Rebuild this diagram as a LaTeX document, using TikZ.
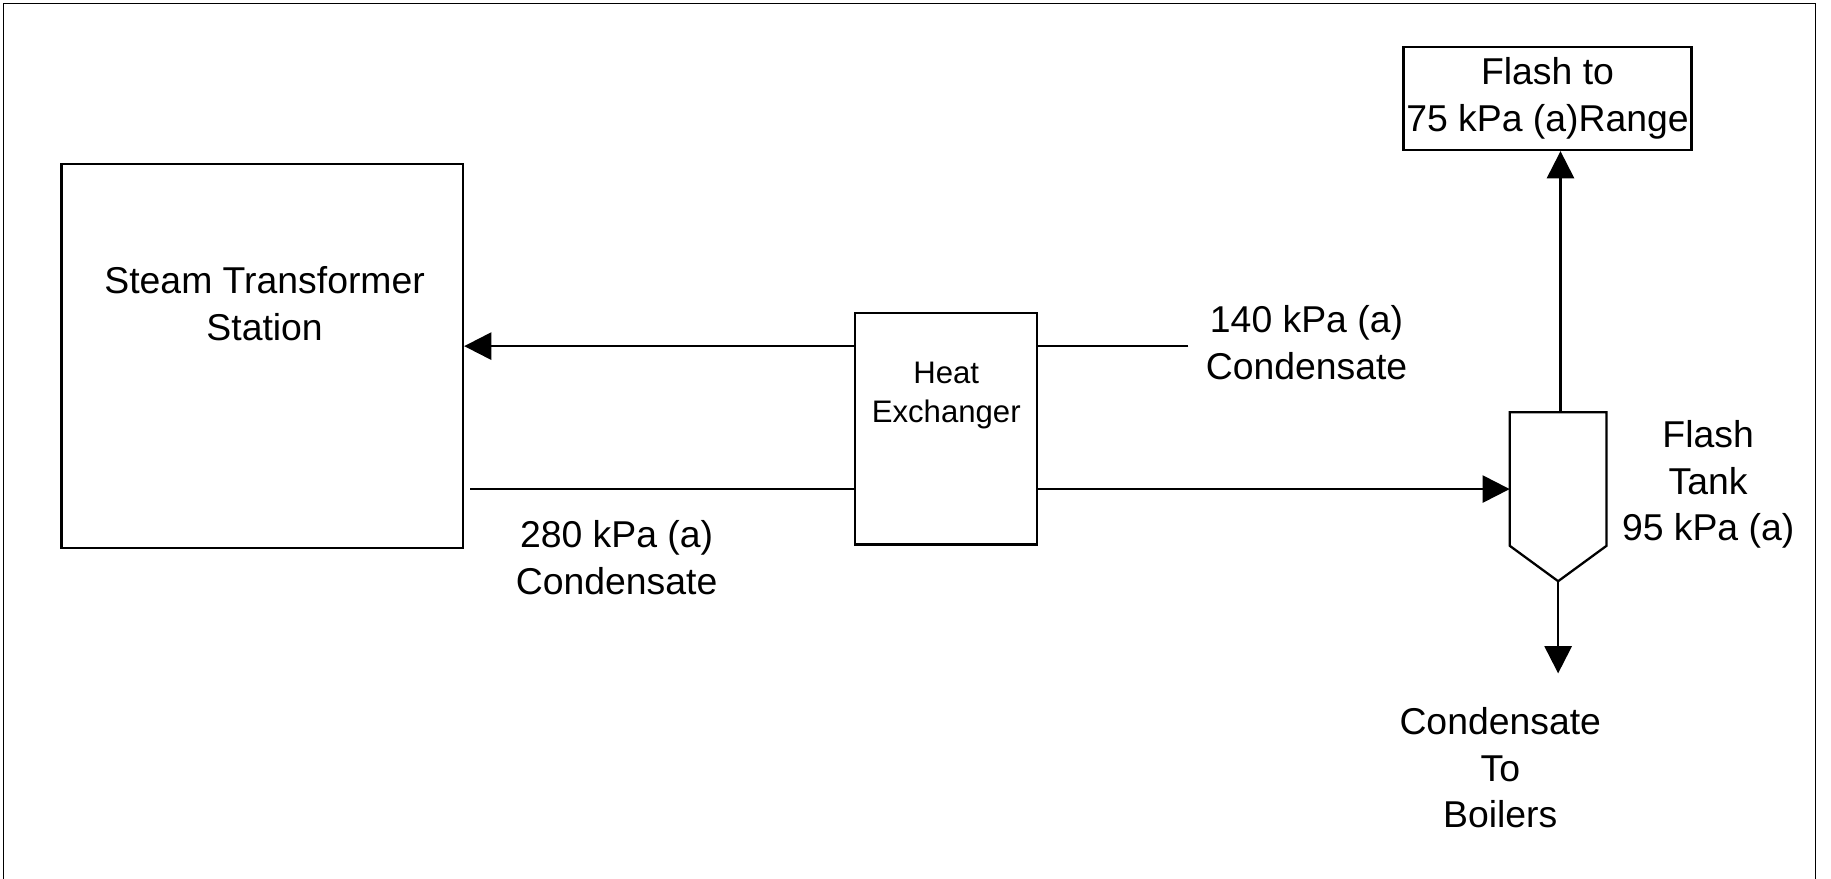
\documentclass[tikz,border=0pt]{standalone}
\usepackage{fontspec}
\setmainfont{Liberation Sans}
\usetikzlibrary{arrows.meta,positioning}
\tikzset{
  pipe/.style={black, line width=1.1pt},
  flow/.style={black, line width=1.1pt, -{Triangle[length=0.46cm,width=0.46cm]}},
  lbl/.style={align=center, font=\fontsize{18}{22.5}\selectfont},
}
\begin{document}
\begin{tikzpicture}[x=0.02cm, y=-0.02cm]
\useasboundingbox (0,0) rectangle (1550,744);
\draw[black, thin] (3,744) -- (3,3) -- (1537,3) -- (1537,744);
% station and exchanger
\node[draw, pipe, minimum width=6.8cm, minimum height=6.5cm] (station) at (222,301.5) {};
\node[lbl] (stationtxt) at (224,257) {Steam Transformer\\Station};
\node[draw, pipe, minimum width=3.08cm, minimum height=3.92cm] (hx) at (801,363) {};
\node[align=center, font=\fontsize{15}{19}\selectfont] (hxtxt) at (801,335) {Heat\\Exchanger};
\coordinate (in140) at (1006,293);
\coordinate (out280) at (398,414);
\draw[pipe] (in140) -- (hx.east |- in140);
\draw[flow] (hx.west |- in140) -- (station.east |- in140);
\draw[pipe] (out280) -- (hx.west |- out280);
\node[lbl] (l280) at (522,472) {280 kPa (a)\\Condensate};
\node[lbl] (l140) at (1106,290) {140 kPa (a)\\Condensate};
% flash tank
\draw[pipe] (1278,349) coordinate (tank) -- (1360,349) -- (1360,462) -- (1319,492) coordinate (tankbot) -- (1278,462) -- cycle;
\coordinate (tanktop) at (1321,349);
\coordinate (tankin) at (1278,414);
\draw[flow] (hx.east |- out280) -- (tankin);
\node[lbl] (ltank) at (1446,410) {Flash\\Tank\\95 kPa (a)};
\node[draw, pipe, lbl, minimum width=4.88cm, minimum height=1.74cm, inner sep=1pt] (flash) at (1310,83.5) {Flash to\\75 kPa (a)Range};
\draw[flow] (tanktop) -- (flash.south -| tanktop);
\coordinate (boil) at (1319,570);
\draw[flow] (tankbot) -- (boil);
\node[lbl] (lboil) at (1270,650) {Condensate\\To\\Boilers};
\end{tikzpicture}
\end{document}
